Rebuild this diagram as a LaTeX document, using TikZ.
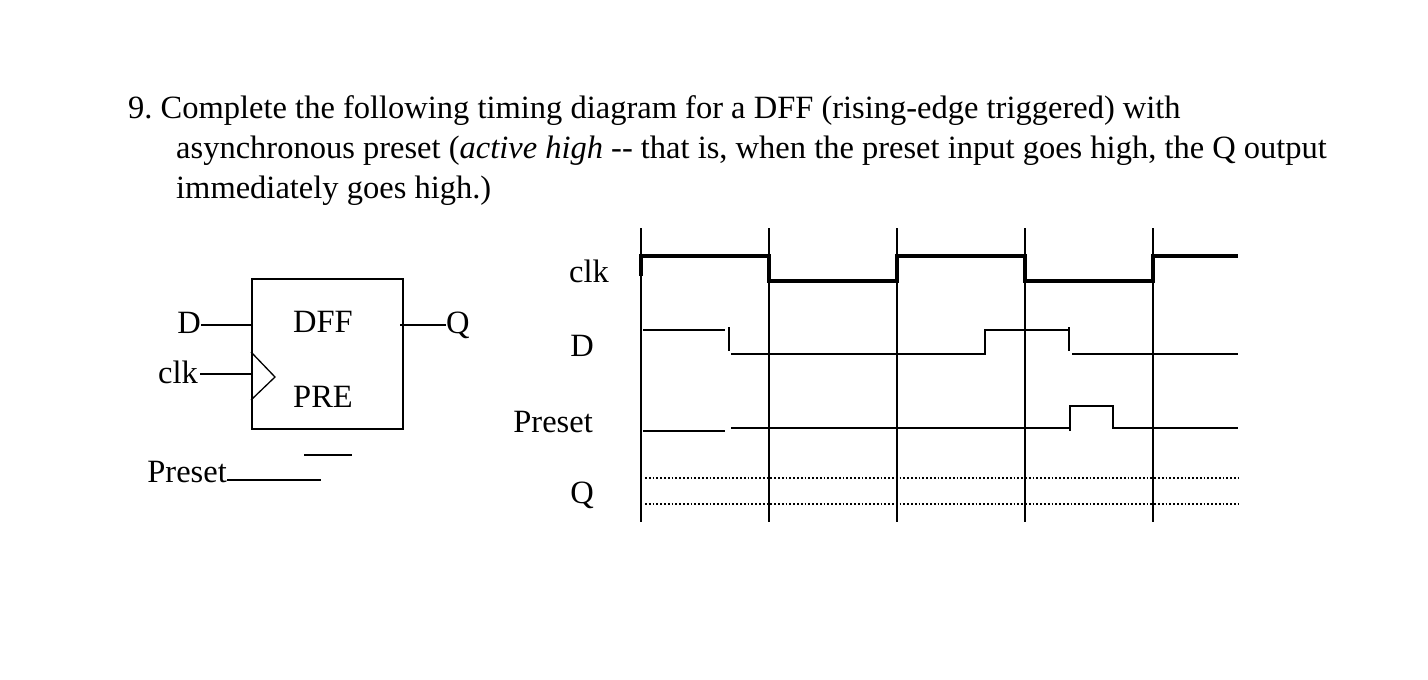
\documentclass[tikz,border=0pt]{standalone}
\usepackage{fontspec}
\setmainfont{Liberation Serif}
\begin{document}
\begin{tikzpicture}[x=1pt,y=-1pt,font=\fontsize{32.5}{40}\selectfont,
  lbl/.style={inner sep=0pt},
  wave/.style={line width=1.3pt},
  clkw/.style={line width=4pt},
  grid/.style={line width=1.5pt}]
\useasboundingbox (0,0) rectangle (1428,680);
\node[lbl,anchor=base west] (t1) at (128,118) {9.\ Complete the following timing diagram for a DFF (rising-edge triggered) with};
\node[lbl,anchor=base west] (t2) at (176,158) {asynchronous preset (\textit{active high} -{}- that is, when the preset input goes high, the Q output};
\node[lbl,anchor=base west] (t3) at (176,198) {immediately goes high.)};
% DFF block
\node[draw,line width=2pt,minimum width=151pt,minimum height=150pt,anchor=north west,inner sep=0pt] (box) at (251,278) {};
\node[lbl] (dff) at (323,322) {DFF};
\node[lbl] (pre) at (323,397) {PRE};
\node[lbl,anchor=east] (dl) at (201,323) {D};
\node[lbl,anchor=west] (ql) at (446,325) {Q};
\node[lbl,anchor=east] (cl) at (198,372) {clk};
\node[lbl,anchor=east] (pl) at (227,472) {Preset};
\draw[wave] (dl.east) ++(0,2) coordinate (d0) -- (d0 -| box.west);
\draw[wave] (ql.west) coordinate (q0) -- ([xshift=-4pt]q0 -| box.east);
\draw[wave] (cl.east) ++(2,2) coordinate (c0) -- (c0 -| box.west);
\draw[wave] (251,352) -- (275,377) -- (251,400);
\draw[wave] (pl.east) ++(0,8) coordinate (p0) -- (321,480);
\draw[wave] (304,455) -- (352,455);
% timing labels
\node[lbl,anchor=east] (lclk) at (609,271) {clk};
\node[lbl,anchor=east] (lD) at (594,346) {D};
\node[lbl,anchor=east] (lP) at (593,422) {Preset};
\node[lbl,anchor=east] (lQ) at (594,495) {Q};
% grid lines
\foreach \x in {641,769,897,1025,1153} \draw[grid] (\x,228) -- (\x,522);
% clk
\draw[clkw] (641,276) -- (641,256) -- (769,256) -- (769,281) -- (897,281) -- (897,256) -- (1025,256) -- (1025,281) -- (1153,281) -- (1153,256) -- (1238,256);
% D
\draw[wave] (643,330) -- (725,330);
\draw[wave] (729,327) -- (729,351);
\draw[wave] (731,354) -- (985,354) -- (985,330) -- (1069,330);
\draw[wave] (1069,327) -- (1069,351);
\draw[wave] (1072,354) -- (1238,354);
% Preset
\draw[wave] (643,431) -- (725,431);
\draw[wave] (731,428) -- (1071,428);
\draw[wave] (1070,431) -- (1070,406) -- (1113,406) -- (1113,428) -- (1238,428);
% Q
\draw[line width=1.8pt,dotted] (645,478) -- (1238,478);
\draw[line width=1.8pt,dotted] (645,504) -- (1238,504);
\end{tikzpicture}
\end{document}
